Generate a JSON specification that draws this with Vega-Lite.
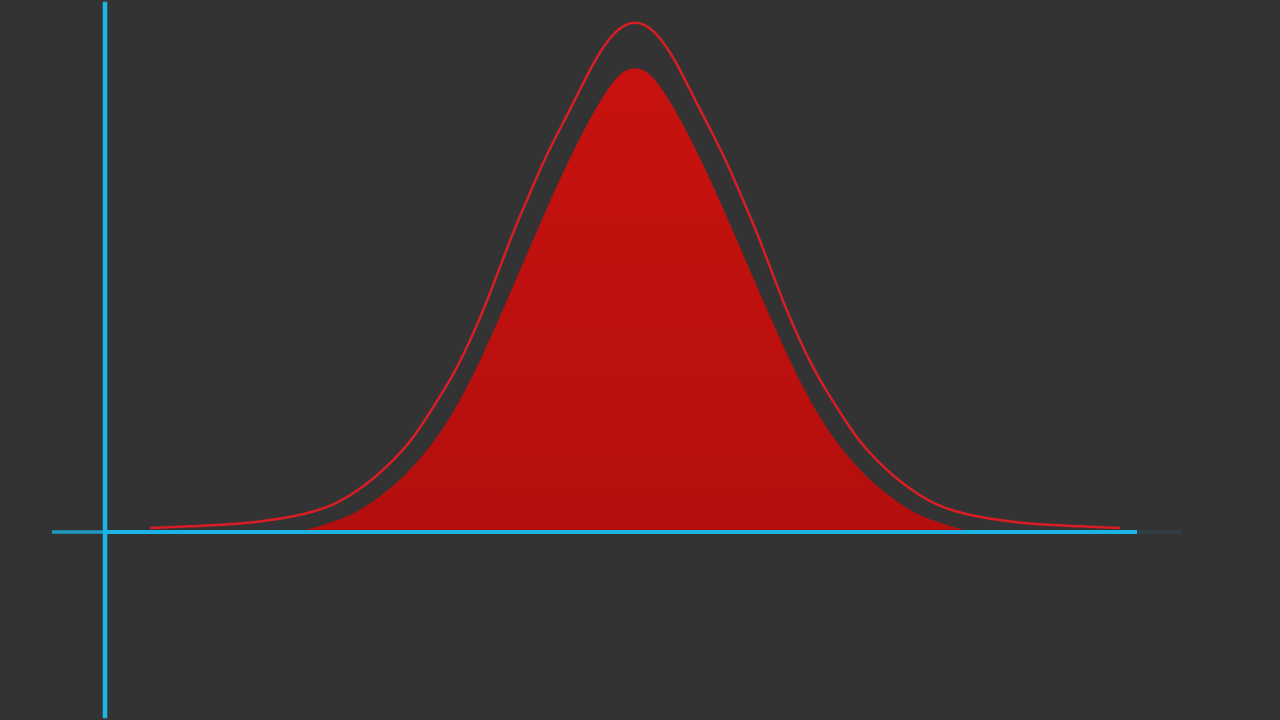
{
  "$schema": "https://vega.github.io/schema/vega-lite/v6.json",
  "width": 1280,
  "height": 720,
  "autosize": {"type": "fit", "contains": "padding"},
  "padding": 0,
  "background": "#333333",
  "config": {"view": {"stroke": null}, "axis": {"disable": true}},
  "datasets": {
    "curves": [
      {"series": "fill", "x": 295, "y": 0},
      {"series": "fill", "x": 305, "y": 2},
      {"series": "fill", "x": 320, "y": 6},
      {"series": "fill", "x": 335, "y": 11},
      {"series": "fill", "x": 350, "y": 17},
      {"series": "fill", "x": 365, "y": 25},
      {"series": "fill", "x": 380, "y": 36},
      {"series": "fill", "x": 395, "y": 48},
      {"series": "fill", "x": 410, "y": 63},
      {"series": "fill", "x": 425, "y": 80},
      {"series": "fill", "x": 440, "y": 100},
      {"series": "fill", "x": 455, "y": 124},
      {"series": "fill", "x": 470, "y": 152},
      {"series": "fill", "x": 485, "y": 184},
      {"series": "fill", "x": 500, "y": 218},
      {"series": "fill", "x": 515, "y": 253},
      {"series": "fill", "x": 530, "y": 288},
      {"series": "fill", "x": 545, "y": 323},
      {"series": "fill", "x": 560, "y": 357},
      {"series": "fill", "x": 575, "y": 389},
      {"series": "fill", "x": 590, "y": 418},
      {"series": "fill", "x": 605, "y": 444},
      {"series": "fill", "x": 620, "y": 465},
      {"series": "fill", "x": 635, "y": 471},
      {"series": "fill", "x": 650, "y": 465},
      {"series": "fill", "x": 665, "y": 444},
      {"series": "fill", "x": 680, "y": 418},
      {"series": "fill", "x": 695, "y": 389},
      {"series": "fill", "x": 710, "y": 357},
      {"series": "fill", "x": 725, "y": 323},
      {"series": "fill", "x": 740, "y": 288},
      {"series": "fill", "x": 755, "y": 253},
      {"series": "fill", "x": 770, "y": 218},
      {"series": "fill", "x": 785, "y": 184},
      {"series": "fill", "x": 800, "y": 152},
      {"series": "fill", "x": 815, "y": 124},
      {"series": "fill", "x": 830, "y": 100},
      {"series": "fill", "x": 845, "y": 80},
      {"series": "fill", "x": 860, "y": 63},
      {"series": "fill", "x": 875, "y": 48},
      {"series": "fill", "x": 890, "y": 36},
      {"series": "fill", "x": 905, "y": 25},
      {"series": "fill", "x": 920, "y": 17},
      {"series": "fill", "x": 935, "y": 11},
      {"series": "fill", "x": 950, "y": 6},
      {"series": "fill", "x": 965, "y": 2},
      {"series": "fill", "x": 975, "y": 0},
      {"series": "outline", "x": 150, "y": 4},
      {"series": "outline", "x": 195, "y": 6},
      {"series": "outline", "x": 235, "y": 8},
      {"series": "outline", "x": 265, "y": 11},
      {"series": "outline", "x": 295, "y": 16},
      {"series": "outline", "x": 315, "y": 21},
      {"series": "outline", "x": 335, "y": 28},
      {"series": "outline", "x": 355, "y": 40},
      {"series": "outline", "x": 375, "y": 55},
      {"series": "outline", "x": 395, "y": 74},
      {"series": "outline", "x": 410, "y": 91},
      {"series": "outline", "x": 425, "y": 113},
      {"series": "outline", "x": 440, "y": 137},
      {"series": "outline", "x": 455, "y": 162},
      {"series": "outline", "x": 470, "y": 193},
      {"series": "outline", "x": 485, "y": 228},
      {"series": "outline", "x": 500, "y": 268},
      {"series": "outline", "x": 515, "y": 308},
      {"series": "outline", "x": 530, "y": 343},
      {"series": "outline", "x": 545, "y": 378},
      {"series": "outline", "x": 560, "y": 408},
      {"series": "outline", "x": 575, "y": 437},
      {"series": "outline", "x": 590, "y": 468},
      {"series": "outline", "x": 605, "y": 494},
      {"series": "outline", "x": 620, "y": 511},
      {"series": "outline", "x": 635, "y": 517},
      {"series": "outline", "x": 650, "y": 511},
      {"series": "outline", "x": 665, "y": 494},
      {"series": "outline", "x": 680, "y": 468},
      {"series": "outline", "x": 695, "y": 437},
      {"series": "outline", "x": 710, "y": 408},
      {"series": "outline", "x": 725, "y": 378},
      {"series": "outline", "x": 740, "y": 343},
      {"series": "outline", "x": 755, "y": 308},
      {"series": "outline", "x": 770, "y": 268},
      {"series": "outline", "x": 785, "y": 228},
      {"series": "outline", "x": 800, "y": 193},
      {"series": "outline", "x": 815, "y": 162},
      {"series": "outline", "x": 830, "y": 137},
      {"series": "outline", "x": 845, "y": 113},
      {"series": "outline", "x": 860, "y": 91},
      {"series": "outline", "x": 875, "y": 74},
      {"series": "outline", "x": 895, "y": 55},
      {"series": "outline", "x": 915, "y": 40},
      {"series": "outline", "x": 935, "y": 28},
      {"series": "outline", "x": 955, "y": 21},
      {"series": "outline", "x": 975, "y": 16},
      {"series": "outline", "x": 1005, "y": 11},
      {"series": "outline", "x": 1035, "y": 8},
      {"series": "outline", "x": 1075, "y": 6},
      {"series": "outline", "x": 1120, "y": 4}
    ],
    "hlines": [
      {"part": "main", "x": 105, "x2": 1137, "y": 0},
      {"part": "left", "x": 52, "x2": 105, "y": 0},
      {"part": "right", "x": 1137, "x2": 1182, "y": 0}
    ],
    "vlines": [{"x": 105}]
  },
  "layer": [
    {
      "data": {"name": "curves"},
      "transform": [{"filter": "datum.series === 'fill'"}],
      "mark": {
        "type": "area",
        "interpolate": "basis",
        "color": {
          "gradient": "linear",
          "x1": 0, "y1": 0, "x2": 0, "y2": 1,
          "stops": [
            {"offset": 0, "color": "#c8120f"},
            {"offset": 1, "color": "#b30f0e"}
          ]
        }
      },
      "encoding": {
        "x": {"field": "x", "type": "quantitative", "scale": {"domain": [0, 1280], "nice": false, "zero": false}},
        "y": {"field": "y", "type": "quantitative", "scale": {"domain": [-186, 534], "nice": false, "zero": false}}
      }
    },
    {
      "data": {"name": "curves"},
      "transform": [{"filter": "datum.series === 'outline'"}],
      "mark": {"type": "line", "interpolate": "basis", "color": "#d81e24", "strokeWidth": 2.5},
      "encoding": {
        "x": {"field": "x", "type": "quantitative", "scale": {"domain": [0, 1280], "nice": false, "zero": false}},
        "y": {"field": "y", "type": "quantitative", "scale": {"domain": [-186, 534], "nice": false, "zero": false}}
      }
    },
    {
      "data": {"name": "hlines"},
      "transform": [{"filter": "datum.part === 'main'"}],
      "mark": {"type": "rule", "color": "#1bb4e4", "strokeWidth": 4},
      "encoding": {
        "x": {"field": "x", "type": "quantitative"},
        "x2": {"field": "x2"},
        "y": {"field": "y", "type": "quantitative"}
      }
    },
    {
      "data": {"name": "hlines"},
      "transform": [{"filter": "datum.part === 'left'"}],
      "mark": {"type": "rule", "color": "#1bb4e4", "strokeWidth": 3.5, "opacity": 0.8},
      "encoding": {
        "x": {"field": "x", "type": "quantitative"},
        "x2": {"field": "x2"},
        "y": {"field": "y", "type": "quantitative"}
      }
    },
    {
      "data": {"name": "hlines"},
      "transform": [{"filter": "datum.part === 'right'"}],
      "mark": {"type": "rule", "color": "#1bb4e4", "strokeWidth": 3, "opacity": 0.1},
      "encoding": {
        "x": {"field": "x", "type": "quantitative"},
        "x2": {"field": "x2"},
        "y": {"field": "y", "type": "quantitative"}
      }
    },
    {
      "data": {"name": "vlines"},
      "mark": {"type": "rule", "color": "#1bb4e4", "strokeWidth": 4.5, "strokeCap": "square"},
      "encoding": {
        "x": {"field": "x", "type": "quantitative"}
      }
    }
  ]
}
